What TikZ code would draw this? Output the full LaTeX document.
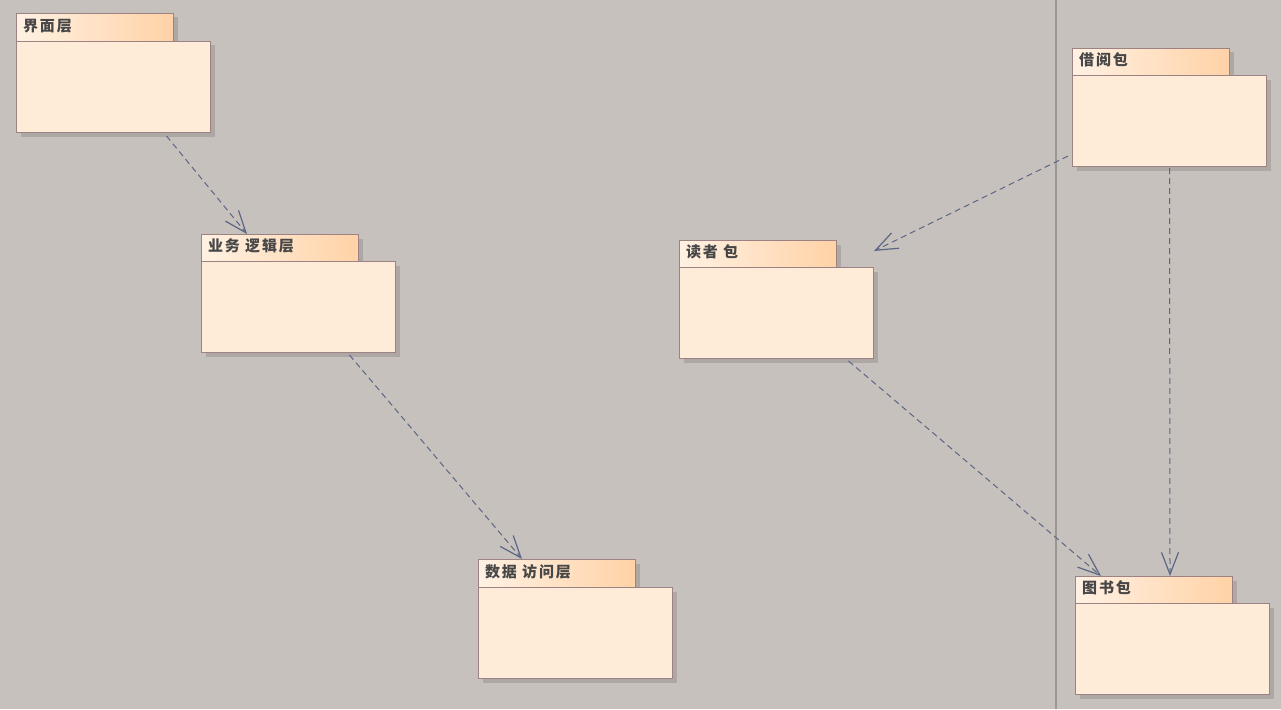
\documentclass[tikz,border=0pt]{standalone}
\usepackage{fontspec}
\newfontfamily\cjk[LetterSpace=12]{Noto Sans CJK SC}
\usetikzlibrary{arrows.meta,shadows}
\definecolor{bg}{HTML}{C6C1BD}
\definecolor{bodyfill}{HTML}{FEEBD8}
\definecolor{tabL}{HTML}{FFF1E3}
\definecolor{tabR}{HTML}{FFD2A6}
\definecolor{pkgborder}{HTML}{9C8282}
\definecolor{shadowc}{HTML}{ADA8A4}
\definecolor{arrowc}{HTML}{5C6684}
\definecolor{txt}{HTML}{474747}
\definecolor{sep}{HTML}{9A9694}
\tikzset{
  pkgbody/.style={draw=pkgborder, line width=1pt, fill=bodyfill, inner sep=0pt,
    minimum width=194pt, minimum height=91pt, anchor=north west,
    drop shadow={shadow xshift=4pt, shadow yshift=-4pt, fill=shadowc, opacity=1}},
  pkgtab/.style={draw=pkgborder, line width=1pt, left color=tabL, right color=tabR,
    inner sep=0pt, minimum width=157pt, minimum height=28pt, anchor=north west,
    drop shadow={shadow xshift=4pt, shadow yshift=-4pt, fill=shadowc, opacity=1}},
  pkglabel/.style={anchor=west, inner sep=0pt, text=txt, font=\cjk\bfseries\fontsize{15pt}{17pt}\selectfont},
  dep/.style={draw=arrowc, line width=1pt, dash pattern=on 6pt off 4pt,
    -{Straight Barb[length=22pt,width=17pt,line width=1.2pt]}}
}
\begin{document}
\begin{tikzpicture}[x=1pt,y=-1pt]
\fill[bg] (0,0) rectangle (1281,709);
\useasboundingbox (0,0) rectangle (1281,709);
\draw[sep, line width=2.5pt] (1056,0) -- (1056,709);
% packages
\node[pkgtab] (t1) at (16,13) {};
\node[pkgbody] (b1) at (16,41) {};
\node[pkglabel] (l1) at (23,26) {界面层};
\node[pkgtab] (t2) at (201,234) {};
\node[pkgbody] (b2) at (201,261) {};
\node[pkglabel] (l2) at (208,246) {业务 逻辑层};
\node[pkgtab] (t3) at (478,559) {};
\node[pkgbody] (b3) at (478,587) {};
\node[pkglabel] (l3) at (485,572) {数据 访问层};
\node[pkgtab] (t4) at (679,240) {};
\node[pkgbody] (b4) at (679,267) {};
\node[pkglabel] (l4) at (686,252) {读者 包};
\node[pkgtab] (t5) at (1072,48) {};
\node[pkgbody] (b5) at (1072,75) {};
\node[pkglabel] (l5) at (1079,60) {借阅包};
\node[pkgtab] (t6) at (1075,576) {};
\node[pkgbody] (b6) at (1075,603) {};
\node[pkglabel] (l6) at (1082,588) {图书包};
% dependencies
\draw[dep] ([xshift=53pt,yshift=-3pt]b1.south) -- ([xshift=-33pt]t2.north);
\draw[dep] ([xshift=51pt,yshift=-2pt]b2.south) -- ([xshift=-35pt]t3.north);
\draw[dep] ([xshift=-4pt,yshift=-35pt]b5.west) -- ([yshift=16pt]b4.north east);
\draw[dep] ([xshift=72pt,yshift=-2pt]b4.south) -- ([xshift=-53pt]t6.north);
\draw[dep] ([yshift=-1pt]b5.south) -- ([xshift=16pt]t6.north);
\end{tikzpicture}
\end{document}
